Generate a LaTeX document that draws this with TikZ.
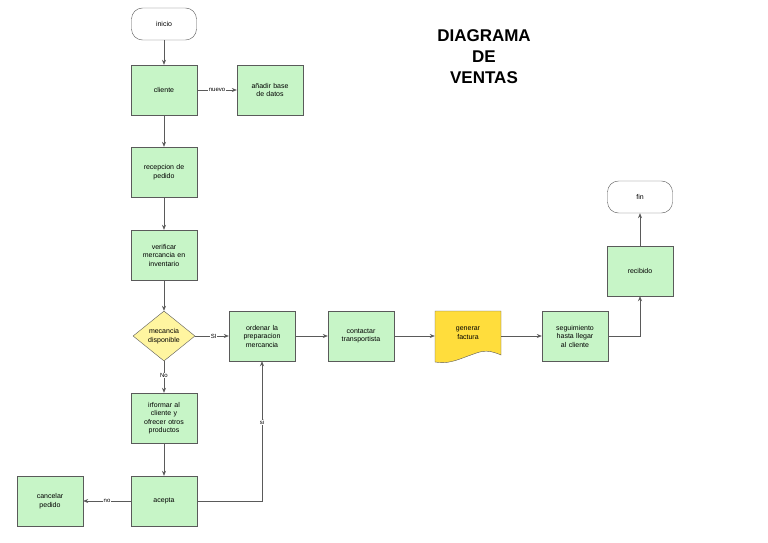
\documentclass[tikz,border=0pt]{standalone}
\usepackage{fontspec}
\setmainfont{Liberation Sans}
\usetikzlibrary{shapes.geometric,arrows.meta}
\definecolor{gfill}{RGB}{199,245,199}
\definecolor{bord}{RGB}{90,90,90}
\definecolor{dfill}{RGB}{255,245,160}
\definecolor{yfill}{RGB}{255,221,60}
\begin{document}
\begin{tikzpicture}[x=1pt,y=-1pt,
 box/.style={draw=bord,fill=gfill,minimum width=66pt,minimum height=50pt,align=center,font=\fontsize{7}{8.5}\selectfont,inner sep=2pt,text width=60pt},
 term/.style={draw=bord,fill=white,rounded corners=11pt,minimum width=65pt,minimum height=32pt,font=\fontsize{7}{8.5}\selectfont},
 arr/.style={draw=bord,-{Stealth[length=5pt,width=4pt]},line width=0.6pt},
 lab/.style={font=\fontsize{6}{7}\selectfont,fill=white,inner sep=0.5pt}]
\useasboundingbox (0,0) rectangle (768,543);
\fill[white] (0,0) rectangle (768,543);
\node[term] (inicio) at (164,24) {inicio};
\node[box] (cliente) at (164,90) {cliente};
\node[box] (anadir) at (270,90) {añadir base\\de datos};
\node[box] (recep) at (164,172) {recepcion de\\pedido};
\node[box] (verif) at (164,255) {verificar\\mercancia en\\inventario};
\node[diamond,draw=bord,fill=dfill,minimum width=62pt,minimum height=50pt,inner sep=0pt,align=center,font=\fontsize{7}{8.5}\selectfont,aspect=1.3] (merc) at (164,336) {mecancia\\disponible};
\node[box] (orden) at (262,336) {ordenar la\\preparacion\\mercancia};
\node[box] (contac) at (361,336) {contactar\\transportista};
\node[minimum width=66pt,minimum height=50pt,align=center,font=\fontsize{7}{8.5}\selectfont,inner sep=0pt] (fact) at (468,336) {};
\draw[draw=bord,fill=yfill] (435,311) -- (501,311) -- (501,355) .. controls (485,348) and (480,352) .. (468,356) .. controls (455,361) and (447,364) .. (435,362) -- cycle;
\node[align=center,font=\fontsize{7}{8.5}\selectfont] at (468,333) {generar\\factura};
\node[box] (segui) at (575,336) {seguimiento\\hasta llegar\\al cliente};
\node[box] (recib) at (640,271) {recibido};
\node[term] (fin) at (640,197) {fin};
\node[box] (inform) at (164,418) {irformar al\\cliente y\\ofrecer otros\\productos};
\node[box] (acepta) at (164,501) {acepta};
\node[box] (cancel) at (50,501) {cancelar\\pedido};
\node[font=\bfseries\fontsize{17}{21}\selectfont,align=center] (title) at (484,57) {DIAGRAMA\\DE\\VENTAS};
\draw[arr] (inicio) -- (cliente);
\draw[arr] (cliente) -- node[lab]{nuevo} (anadir);
\draw[arr] (cliente) -- (recep);
\draw[arr] (recep) -- (verif);
\draw[arr] (verif) -- (merc);
\draw[arr] (merc) -- node[lab,pos=0.55]{SI} (orden);
\draw[arr] (merc) -- node[lab,pos=0.45]{No} (inform);
\draw[arr] (orden) -- (contac);
\draw[arr] (contac) -- (fact.west);
\draw[arr] (fact.east) -- (segui);
\draw[arr] (segui.east) -| (recib.south);
\draw[arr] (recib) -- (fin);
\draw[arr] (inform) -- (acepta);
\draw[arr] (acepta) -- node[lab]{no} (cancel);
\draw[arr] (acepta.east) -| node[lab,pos=0.78]{si} (orden.south);
\end{tikzpicture}
\end{document}
